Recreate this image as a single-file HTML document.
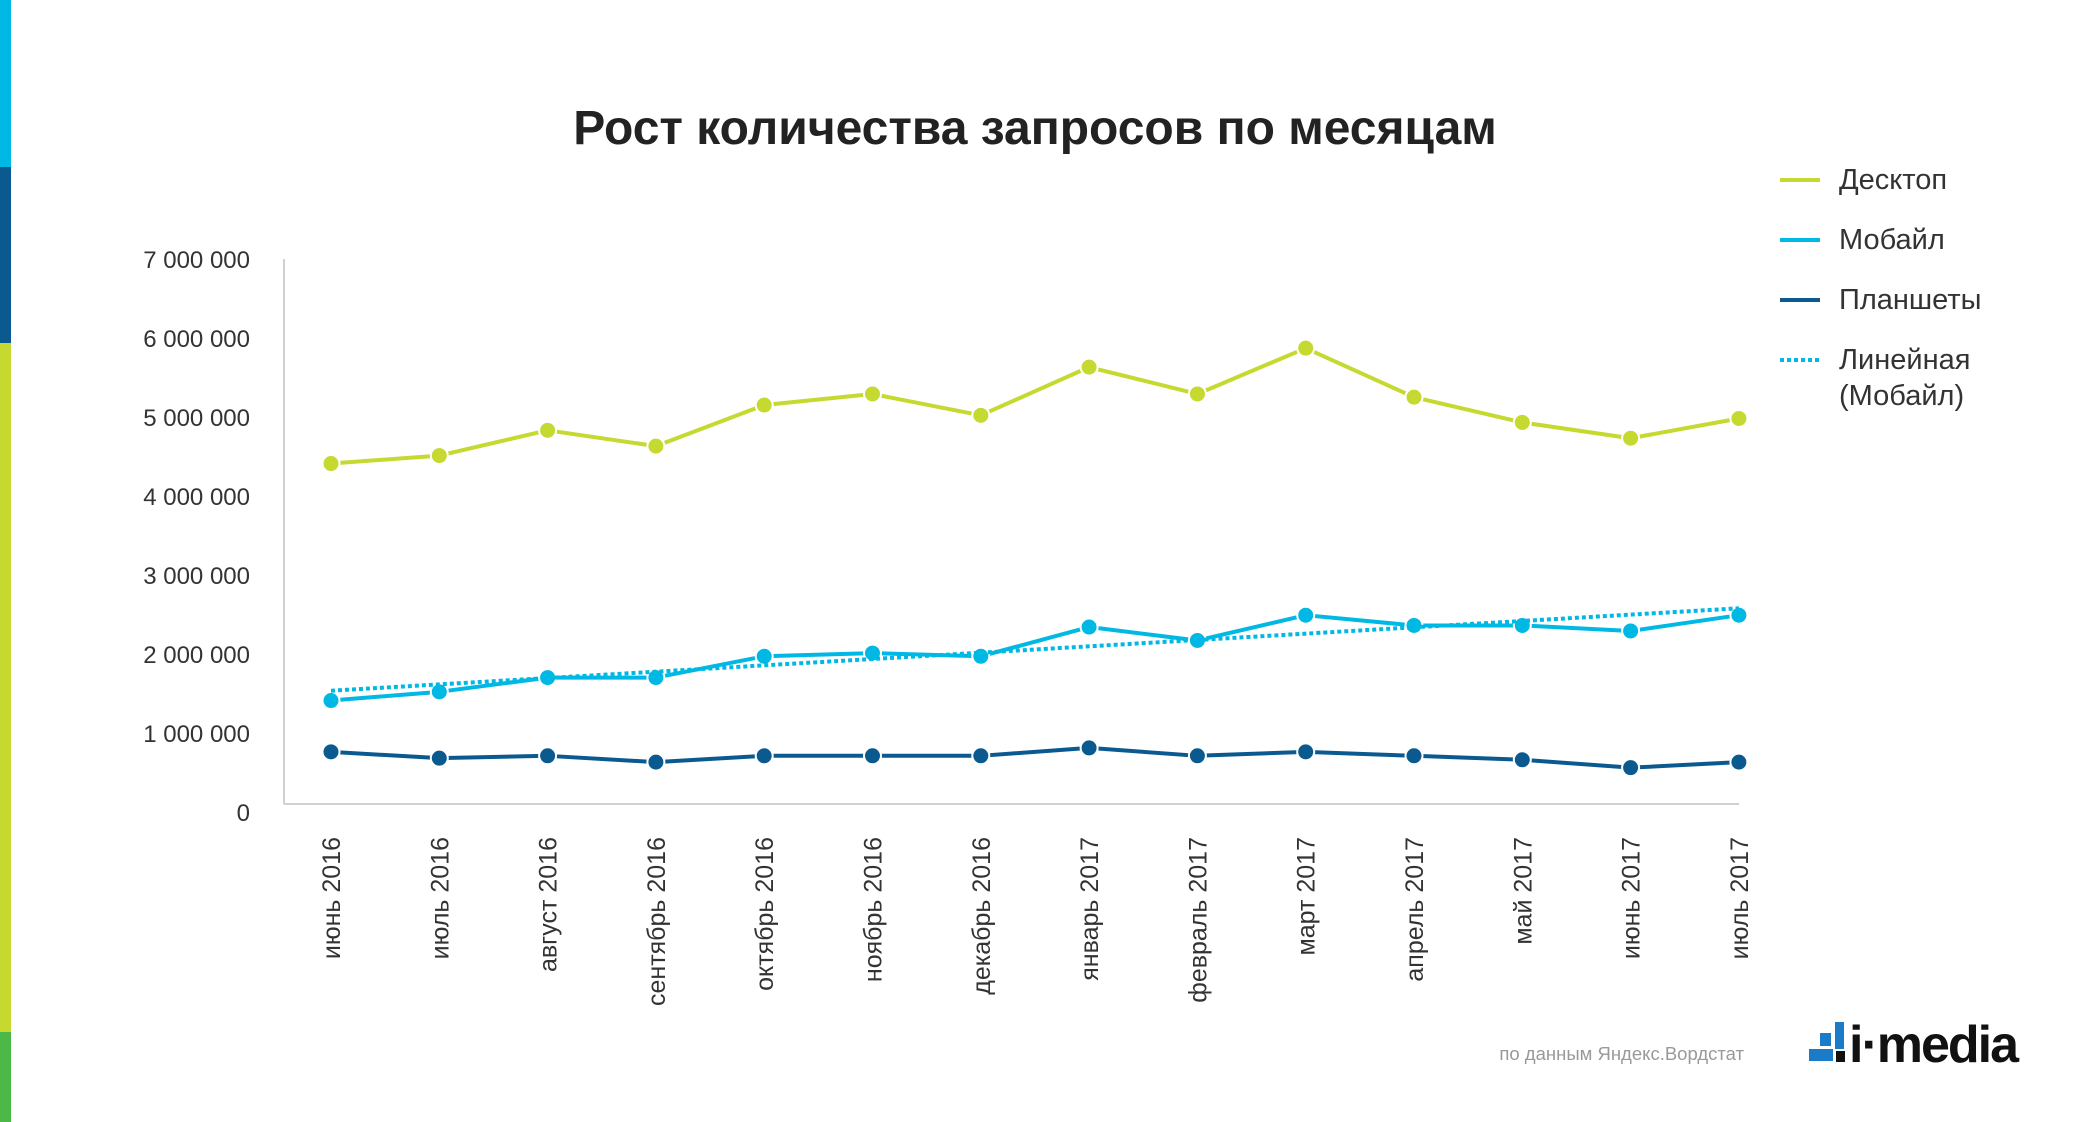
<!DOCTYPE html>
<html><head><meta charset="utf-8">
<style>
html,body{margin:0;padding:0;background:#fff;}
body{width:2083px;height:1122px;overflow:hidden;position:relative;font-family:"Liberation Sans","DejaVu Sans",sans-serif;}
svg{position:absolute;left:0;top:0;}
</style></head>
<body>
<svg width="2083" height="1122" id="chart">
  <rect x="0" y="0" width="11" height="167" fill="#00b8e4"/>
  <rect x="0" y="167" width="11" height="176" fill="#0a5a90"/>
  <rect x="0" y="343" width="11" height="689" fill="#c5d930"/>
  <rect x="0" y="1032" width="11" height="90" fill="#4cb848"/>
  <text x="1035" y="144" text-anchor="middle" font-size="48" font-weight="bold" fill="#222">Рост количества запросов по месяцам</text>
  <line x1="284" y1="259" x2="284" y2="804" stroke="#d0d0d0" stroke-width="2"/>
  <line x1="284" y1="804" x2="1739" y2="804" stroke="#d0d0d0" stroke-width="2"/>
  <g id="yticks"></g><g id="xticks"></g><g id="series"></g>
  <g>
    <line x1="1780" y1="180" x2="1820" y2="180" stroke="#c5d930" stroke-width="4"/>
    <text x="1839" y="189" font-size="29" fill="#333">Десктоп</text>
    <line x1="1780" y1="240" x2="1820" y2="240" stroke="#00b8e4" stroke-width="4"/>
    <text x="1839" y="249" font-size="29" fill="#333">Мобайл</text>
    <line x1="1780" y1="300" x2="1820" y2="300" stroke="#0a5a90" stroke-width="4"/>
    <text x="1839" y="309" font-size="29" fill="#333">Планшеты</text>
    <line x1="1780" y1="360" x2="1820" y2="360" stroke="#00b8e4" stroke-width="4" stroke-dasharray="4 3"/>
    <text x="1839" y="369" font-size="29" fill="#333">Линейная</text>
    <text x="1839" y="405" font-size="29" fill="#333">(Мобайл)</text>
  </g>
  <text x="1744" y="1060" text-anchor="end" font-size="18.5" fill="#999">по данным Яндекс.Вордстат</text>
  <g>
    <rect x="1809" y="1049" width="24" height="12" fill="#1a7cc8"/>
    <rect x="1820" y="1033" width="11" height="13" fill="#1a7cc8"/>
    <rect x="1835" y="1022" width="9" height="27" fill="#1a7cc8"/>
    <rect x="1836" y="1051" width="9" height="11" fill="#111"/>
    <text x="1849" y="1062" font-size="52" font-weight="bold" fill="#111" letter-spacing="-2">i·media</text>
  </g>
</svg>
<script>
const categories=["июнь 2016","июль 2016","август 2016","сентябрь 2016","октябрь 2016","ноябрь 2016","декабрь 2016","январь 2017","февраль 2017","март 2017","апрель 2017","май 2017","июнь 2017","июль 2017"];
const desktop=[4310000,4410000,4730000,4530000,5050000,5190000,4920000,5530000,5190000,5770000,5150000,4830000,4630000,4880000];
const mobile=[1310000,1420000,1600000,1600000,1870000,1910000,1870000,2240000,2070000,2390000,2260000,2260000,2190000,2390000];
const tablet=[660000,580000,610000,530000,610000,610000,610000,710000,610000,660000,610000,560000,460000,530000];
const yTicks=[0,1000000,2000000,3000000,4000000,5000000,6000000,7000000];
const yTickLabels=["0","1 000 000","2 000 000","3 000 000","4 000 000","5 000 000","6 000 000","7 000 000"];

const NS="http://www.w3.org/2000/svg";
function x(i){return 331+i*108.3;}
function y(v){return 804-v/1000000*79;}
function mk(tag,attrs,parent){const e=document.createElementNS(NS,tag);for(const k in attrs)e.setAttribute(k,attrs[k]);parent.appendChild(e);return e;}
const yg=document.getElementById('yticks'),xg=document.getElementById('xticks'),sg=document.getElementById('series');
yTicks.forEach((v,i)=>{
  const t=mk('text',{x:250,y:y(v)+17,'text-anchor':'end','font-size':24,fill:'#333'},yg);
  
  
  t.textContent=yTickLabels[i];
});
categories.forEach((c,i)=>{
  const t=mk('text',{x:0,y:0,'text-anchor':'end','font-size':25,fill:'#333',transform:`translate(${x(i)+9},837) rotate(-90)`},xg);
  
  
  t.textContent=c;
});
const n=mobile.length;let sx=0,sy=0,sxy=0,sxx=0;
mobile.forEach((v,i)=>{sx+=i;sy+=v;sxy+=i*v;sxx+=i*i;});
const b=(n*sxy-sx*sy)/(n*sxx-sx*sx),a=(sy-b*sx)/n;
function drawSeries(vals,color,name){
  const pts=vals.map((v,i)=>x(i)+','+y(v)).join(' ');
  const pl=mk('polyline',{points:pts,fill:'none',stroke:color,'stroke-width':4,'stroke-linejoin':'round'},sg);
  
  
  vals.forEach((v,i)=>{
    const c=mk('circle',{cx:x(i),cy:y(v),r:8.5,fill:color,stroke:'#fff','stroke-width':2},sg);
    
    
  });
}
drawSeries(desktop,'#c5d930','desktop');
drawSeries(tablet,'#0a5a90','tablet');
drawSeries(mobile,'#00b8e4','mobile');
const tr=mk('line',{x1:x(0),y1:y(a),x2:x(n-1),y2:y(a+b*(n-1)),stroke:'#00b8e4','stroke-width':4,'stroke-dasharray':'4 3'},sg);


</script>
</body></html>
